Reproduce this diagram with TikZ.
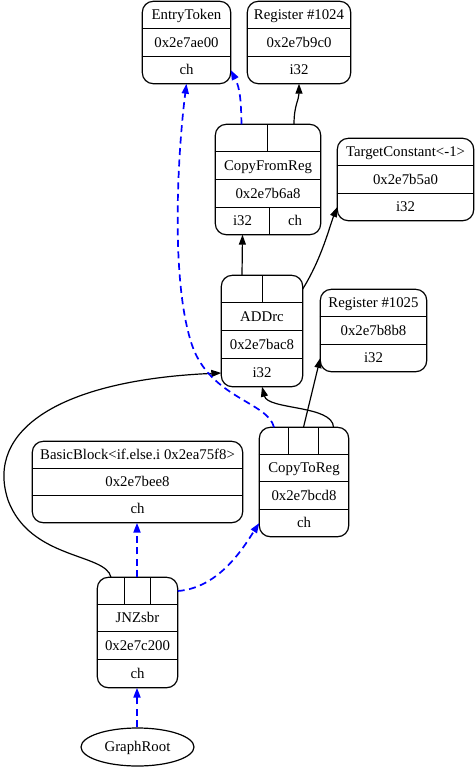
\documentclass[tikz,border=0pt]{standalone}
\usepackage{fontspec}
\setmainfont{Liberation Serif}
\usetikzlibrary{arrows.meta,fit,shapes.geometric}

\begin{document}
\begin{tikzpicture}[x=1pt,y=-1pt,
  every node/.style={font=\fontsize{14.8}{17}\selectfont},
  cell/.style={inner sep=0pt,text height=9.8pt,text depth=0pt,minimum height=27pt},
  record/.style={draw,line width=1.2pt,rounded corners=11pt,inner sep=0pt},
  root/.style={draw,ellipse,line width=1.2pt,inner sep=0pt,text height=9.8pt,text depth=0pt},
  sep/.style={line width=1.2pt},
  dep/.style={-{Triangle[length=10pt,width=7pt]},line width=1.2pt},
  chain/.style={dep,blue,line width=1.7pt,dash pattern=on 7pt off 4.5pt},
  upchain/.style={chain,line width=2pt}]

    \useasboundingbox (0,0) rectangle (474,768);

    % plain three-row records
    \foreach \t/\y [count=\i] in {EntryToken/15,0x2e7ae00/43,ch/70}
        \node[cell,minimum width=88pt](entry-\i) at (186.5,\y) {\t};
    \foreach \t/\y [count=\i] in {Register \#1024/15,0x2e7b9c0/43,i32/70}
        \node[cell,minimum width=103pt](reg1024-\i) at (299,\y) {\t};
    \foreach \t/\y [count=\i] in {TargetConstant<-1>/152,0x2e7b5a0/180,i32/207}
        \node[cell,minimum width=136pt](tc-\i) at (405.5,\y) {\t};
    \foreach \t/\y [count=\i] in {Register \#1025/303,0x2e7b8b8/331,i32/358}
        \node[cell,minimum width=106pt](reg1025-\i) at (373.5,\y) {\t};
    \foreach \t/\y [count=\i] in {BasicBlock<if.else.i 0x2ea75f8>/455,0x2e7bee8/482,ch/509}
        \node[cell,minimum width=210pt](bb-\i) at (137.5,\y) {\t};

    \foreach \n in {entry,reg1024,tc,reg1025,bb} {
        \node[record,fit=(\n-1)(\n-3)](\n){};
        \foreach \i in {1,2}
            \draw[sep] (\n.west |- \n-\i.south) -- (\n.east |- \n-\i.south);
    }

    % CopyFromReg
    \node[cell,minimum width=52pt](cfr-p1) at (241.5,138) {};
    \node[cell,minimum width=53pt](cfr-p2) at (294,138) {};
    \node[cell,minimum width=105pt](cfr-2) at (268,166) {CopyFromReg};
    \node[cell,minimum width=105pt](cfr-3) at (268,194) {0x2e7b6a8};
    \node[cell,minimum width=54pt](cfr-i32) at (242.5,221) {i32};
    \node[cell,minimum width=51pt](cfr-ch) at (295,221) {ch};
    \node[record,fit=(cfr-p1)(cfr-p2)(cfr-i32)(cfr-ch)](cfr){};
    \draw[sep] (cfr-p1.north east) -- (cfr-p1.south east);
    \draw[sep] (cfr-i32.north east) -- (cfr-i32.south east);
    \foreach \r in {p1,2,3}
        \draw[sep] (cfr.west |- cfr-\r.south) -- (cfr.east |- cfr-\r.south);

    % ADDrc
    \node[cell,minimum width=41pt](add-p1) at (242,289) {};
    \node[cell,minimum width=40pt](add-p2) at (282.5,289) {};
    \foreach \t/\y [count=\i from 2] in {ADDrc/317,0x2e7bac8/345,i32/373}
        \node[cell,minimum width=81pt](add-\i) at (262,\y) {\t};
    \node[record,fit=(add-p1)(add-p2)(add-4)](add){};
    \draw[sep] (add-p1.north east) -- (add-p1.south east);
    \foreach \r in {p1,2,3}
        \draw[sep] (add.west |- add-\r.south) -- (add.east |- add-\r.south);

    % CopyToReg
    \foreach \x/\w [count=\i] in {274/29,303.5/30,333.5/30}
        \node[cell,minimum width=\w pt](ctr-p\i) at (\x,441) {};
    \foreach \t/\y [count=\i from 2] in {CopyToReg/468,0x2e7bcd8/496,ch/523}
        \node[cell,minimum width=89pt](ctr-\i) at (304,\y) {\t};
    \node[record,fit=(ctr-p1)(ctr-p3)(ctr-4)](ctr){};
    \foreach \i in {1,2}
        \draw[sep] (ctr-p\i.north east) -- (ctr-p\i.south east);
    \foreach \r in {p1,2,3}
        \draw[sep] (ctr.west |- ctr-\r.south) -- (ctr.east |- ctr-\r.south);

    % JNZsbr
    \foreach \x/\w [count=\i] in {111/27,137.5/26,164/27}
        \node[cell,minimum width=\w pt](jnz-p\i) at (\x,591) {};
    \foreach \t/\y [count=\i from 2] in {JNZsbr/618,0x2e7c200/646,ch/674}
        \node[cell,minimum width=80pt](jnz-\i) at (137.5,\y) {\t};
    \node[record,fit=(jnz-p1)(jnz-p3)(jnz-4)](jnz){};
    \foreach \i in {1,2}
        \draw[sep] (jnz-p\i.north east) -- (jnz-p\i.south east);
    \foreach \r in {p1,2,3}
        \draw[sep] (jnz.west |- jnz-\r.south) -- (jnz.east |- jnz-\r.south);

    \node[root,minimum width=113pt,minimum height=38pt](root) at (137.5,747) {GraphRoot};

    % edges
    \draw[upchain]([xshift=-0.5pt]root.north) -- ([xshift=-0.5pt]jnz-4.south);
    \draw[dep](jnz-p1.north) .. controls (106,553) and (30,560) .. (8,500)
        .. controls (-15,430) and (60,380) .. (add-4.west);
    \draw[upchain]([xshift=-0.5pt]jnz-p2.north) -- ([xshift=-0.5pt]bb-3.south);
    \draw[chain](jnz-p3.east) .. controls (220,588) and (245,545) .. (ctr-4.west);
    \draw[chain](ctr-p1.north) .. controls (268,402) and (210,398) .. (192,345)
        .. controls (170,280) and (178,150) .. (entry-3.south);
    \draw[dep](ctr-p2.north) -- (reg1025-3.west);
    \draw[dep](ctr-p3.north) .. controls (333,405) and (268,410) .. (add-4.south);
    \draw[dep](add-p1.north) -- (cfr-i32.south);
    \draw[dep](add-p2.east) .. controls (322,258) and (330,225) .. (tc-3.west);
    \draw[chain](cfr-p1.north) .. controls (241,100) and (240,88) .. (entry-3.east);
    \draw[dep](cfr-p2.north) .. controls (294,105) and (299,100) .. (reg1024-3.south);
\end{tikzpicture}
\end{document}
